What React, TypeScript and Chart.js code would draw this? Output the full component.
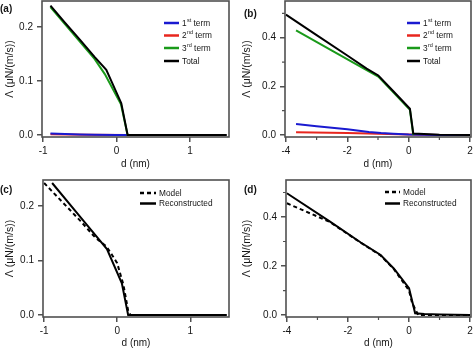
import React, { useEffect, useRef } from "react";
import { Chart, registerables } from "chart.js";
Chart.register(...registerables);

// ---------- DATA ----------
// Panel (a)
const aTotalX = [-0.9, -0.7, -0.5, -0.3, -0.14, 0.064, 0.15, 0.5, 1.0, 1.5];
const aTotalY = [0.240, 0.208, 0.177, 0.145, 0.121, 0.059, 0.0, 0.0, 0.0, 0.0];
const aThirdX = [-0.9, -0.7, -0.5, -0.3, -0.16, 0.06, 0.15];
const aThirdY = [0.237, 0.205, 0.173, 0.141, 0.113, 0.057, 0.0];
const aFirstX = [-0.9, -0.7, -0.5, -0.3, 0.0, 0.15];
const aFirstY = [0.003, 0.002, 0.001, 0.0005, 0.0, 0.0];
const aSecondX = [-0.9, -0.4, 0.15];
const aSecondY = [0.0012, 0.0007, 0.0002];

// Panel (b)
const bTotalX = [-4, -3, -2, -1.37, -0.99, -0.5, 0.04, 0.15, 0.5, 1, 2];
const bTotalY = [0.495, 0.411, 0.327, 0.273, 0.245, 0.18, 0.108, 0.006, 0.004, 0.001, 0.0];
const bThirdX = [-3.67, -2.5, -1.5, -0.99, -0.5, 0.04, 0.15];
const bThirdY = [0.43, 0.347, 0.276, 0.24, 0.176, 0.104, 0.0];
const bFirstX = [-3.67, -3, -2, -1.3, -0.9, -0.5, 0, 0.5, 1, 2];
const bFirstY = [0.045, 0.036, 0.024, 0.013, 0.008, 0.005, 0.002, 0.001, 0.0, 0.0];
const bSecondX = [-3.67, -2, -1, 0, 0.5, 1, 2];
const bSecondY = [0.012, 0.008, 0.005, 0.002, 0.001, 0.0005, 0.0];

// Panel (c)
const cModelX = [-1.0, -0.9, -0.7, -0.5, -0.3, -0.15, -0.07, 0.0, 0.086, 0.15, 0.18, 0.5, 1.0, 1.5];
const cModelY = [0.242, 0.228, 0.2, 0.172, 0.142, 0.126, 0.11, 0.095, 0.055, 0.008, 0.0, 0.0, 0.0, 0.0];
const cReconX = [-0.89, -0.5, -0.14, 0.064, 0.15, 0.5, 1.0, 1.5];
const cReconY = [0.242, 0.179, 0.121, 0.058, 0.0, 0.0, 0.0, 0.0];

// Panel (d)
const dReconX = [-4, -2.6, -1.58, -0.93, -0.5, 0, 0.2, 0.5, 1, 2];
const dReconY = [0.497, 0.382, 0.296, 0.245, 0.19, 0.11, 0.007, 0.004, 0.002, 0.0];
const dModelX = [-4, -3, -2.6, -1.58, -0.93, -0.5, 0, 0.1, 0.3, 1, 2];
const dModelY = [0.456, 0.402, 0.38, 0.295, 0.243, 0.188, 0.1, 0.05, 0.0, 0.0, 0.0];

// Ticks
const xTicksNarrow = [-1, 0, 1];
const xTicksWide = [-4, -2, 0, 2];
const xMinorWide = [-3, -1, 1];
const yTicksSmall = [0, 0.1, 0.2];
const yTicksLarge = [0, 0.2, 0.4];
const yMinorLarge = [0.1, 0.3, 0.5];

// Labels
const termLabels = [
  { main: "1", sup: "st", rest: " term" },
  { main: "2", sup: "nd", rest: " term" },
  { main: "3", sup: "rd", rest: " term" },
  { main: "Total", sup: "", rest: "" },
];
const fitLabels = ["Model", "Reconstructed"];
const yTitle = "Λ (μN/(m/s))";
const xTitle = "d (nm)";

// ---------- STYLE ----------
const FONT = "'Liberation Sans', Arial, Helvetica, sans-serif";
const FRAME = "#505050";
const TXT = "#151515";
const BLUE = "#1a1ad0";
const RED = "#e8261e";
const GREEN = "#1a9a1a";
const BLACK = "#000000";
const DASH = [4, 3];

type Series = { xs: number[]; ys: number[]; color: string; dash?: number[] };
type LegItem = { main: string; sup: string; rest: string; color: string; dash?: number[] };

interface PanelCfg {
  pos: { left: number; top: number };
  area: { l: number; t: number; r: number; b: number };
  xr: [number, number];
  yr: [number, number];
  xTicks: number[];
  yTicks: number[];
  xMinor: number[];
  yMinor: number[];
  series: Series[];
  legend: { x1: number; x2: number; tx: number; ys: number[]; items: LegItem[] };
  tag: { text: string; x: number; y: number };
  xTitlePad: number;
}

const W = 237;
const H = 175;

const panels: PanelCfg[] = [
  {
    pos: { left: 0, top: 0 },
    area: { l: 42, t: 1, r: 229, b: 137 },
    xr: [-1.015, 1.53],
    yr: [-0.0037, 0.2485],
    xTicks: xTicksNarrow,
    yTicks: yTicksSmall,
    xMinor: [],
    yMinor: [],
    series: [
      { xs: aTotalX, ys: aTotalY, color: BLACK },
      { xs: aThirdX, ys: aThirdY, color: GREEN },
      { xs: aFirstX, ys: aFirstY, color: BLUE },
      { xs: aSecondX, ys: aSecondY, color: RED },
    ],
    legend: {
      x1: 164, x2: 179, tx: 182, ys: [23, 35.5, 48, 61],
      items: [
        { ...termLabels[0], color: BLUE },
        { ...termLabels[1], color: RED },
        { ...termLabels[2], color: GREEN },
        { ...termLabels[3], color: BLACK },
      ],
    },
    tag: { text: "(a)", x: 0, y: 9 },
    xTitlePad: 5,
  },
  {
    pos: { left: 237, top: 0 },
    area: { l: 48, t: 1, r: 234, b: 137 },
    xr: [-4.03, 2.03],
    yr: [-0.008, 0.551],
    xTicks: xTicksWide,
    yTicks: yTicksLarge,
    xMinor: xMinorWide,
    yMinor: yMinorLarge,
    series: [
      { xs: bTotalX, ys: bTotalY, color: BLACK },
      { xs: bThirdX, ys: bThirdY, color: GREEN },
      { xs: bFirstX, ys: bFirstY, color: BLUE },
      { xs: bSecondX, ys: bSecondY, color: RED },
    ],
    legend: {
      x1: 170, x2: 183, tx: 186, ys: [23, 35.5, 48, 61],
      items: [
        { ...termLabels[0], color: BLUE },
        { ...termLabels[1], color: RED },
        { ...termLabels[2], color: GREEN },
        { ...termLabels[3], color: BLACK },
      ],
    },
    tag: { text: "(b)", x: 7, y: 14 },
    xTitlePad: 5,
  },
  {
    pos: { left: 0, top: 175 },
    area: { l: 43, t: 5, r: 229, b: 142 },
    xr: [-1.015, 1.53],
    yr: [-0.0037, 0.2475],
    xTicks: xTicksNarrow,
    yTicks: yTicksSmall,
    xMinor: [],
    yMinor: [],
    series: [
      { xs: cReconX, ys: cReconY, color: BLACK },
      { xs: cModelX, ys: cModelY, color: BLACK, dash: DASH },
    ],
    legend: {
      x1: 140, x2: 156, tx: 159, ys: [18, 28.5],
      items: [
        { main: fitLabels[0], sup: "", rest: "", color: BLACK, dash: DASH },
        { main: fitLabels[1], sup: "", rest: "", color: BLACK },
      ],
    },
    tag: { text: "(c)", x: 0, y: 15 },
    xTitlePad: 1,
  },
  {
    pos: { left: 237, top: 175 },
    area: { l: 49, t: 5, r: 234, b: 142 },
    xr: [-4.03, 2.03],
    yr: [-0.008, 0.551],
    xTicks: xTicksWide,
    yTicks: yTicksLarge,
    xMinor: xMinorWide,
    yMinor: yMinorLarge,
    series: [
      { xs: dReconX, ys: dReconY, color: BLACK },
      { xs: dModelX, ys: dModelY, color: BLACK, dash: DASH },
    ],
    legend: {
      x1: 148, x2: 163, tx: 166, ys: [17, 28.5],
      items: [
        { main: fitLabels[0], sup: "", rest: "", color: BLACK, dash: DASH },
        { main: fitLabels[1], sup: "", rest: "", color: BLACK },
      ],
    },
    tag: { text: "(d)", x: 7, y: 15 },
    xTitlePad: 1,
  },
];

function decoPlugin(cfg: PanelCfg) {
  return {
    id: "deco",
    afterDraw(chart: any) {
      const ctx: CanvasRenderingContext2D = chart.ctx;
      const ca = chart.chartArea;
      const xs = chart.scales.x;
      const ys = chart.scales.y;
      ctx.save();
      // frame
      ctx.strokeStyle = FRAME;
      ctx.lineWidth = 1.6;
      ctx.strokeRect(ca.left, ca.top, ca.right - ca.left, ca.bottom - ca.top);
      // minor ticks
      ctx.lineWidth = 1.2;
      ctx.beginPath();
      cfg.xMinor.forEach((v) => {
        const px = xs.getPixelForValue(v);
        ctx.moveTo(px, ca.bottom);
        ctx.lineTo(px, ca.bottom + 3);
      });
      cfg.yMinor.forEach((v) => {
        const py = ys.getPixelForValue(v);
        if (py < ca.top) return;
        ctx.moveTo(ca.left, py);
        ctx.lineTo(ca.left - 3, py);
      });
      ctx.stroke();
      // legend
      const lg = cfg.legend;
      lg.items.forEach((it, i) => {
        const y = lg.ys[i];
        ctx.strokeStyle = it.color;
        ctx.lineWidth = 2.5;
        ctx.setLineDash(it.dash ? it.dash : []);
        ctx.beginPath();
        ctx.moveTo(lg.x1, y);
        ctx.lineTo(lg.x2, y);
        ctx.stroke();
        ctx.setLineDash([]);
        ctx.fillStyle = TXT;
        ctx.textBaseline = "middle";
        ctx.textAlign = "left";
        ctx.font = `8.3px ${FONT}`;
        let x = lg.tx;
        ctx.fillText(it.main, x, y + 0.5);
        x += ctx.measureText(it.main).width;
        if (it.sup) {
          ctx.font = `5.5px ${FONT}`;
          ctx.fillText(it.sup, x + 0.3, y - 3);
          x += ctx.measureText(it.sup).width + 0.3;
          ctx.font = `8.3px ${FONT}`;
        }
        if (it.rest) ctx.fillText(it.rest, x, y + 0.5);
      });
      // tag
      ctx.fillStyle = TXT;
      ctx.font = `bold 10px ${FONT}`;
      ctx.textBaseline = "middle";
      ctx.textAlign = "left";
      ctx.fillText(cfg.tag.text, cfg.tag.x, cfg.tag.y);
      ctx.restore();
    },
  };
}

function Panel({ cfg }: { cfg: PanelCfg }) {
  const ref = useRef<HTMLCanvasElement | null>(null);
  useEffect(() => {
    if (!ref.current) return;
    const a = cfg.area;
    const chart = new Chart(ref.current, {
      type: "line",
      data: {
        datasets: cfg.series.map((s) => ({
          data: s.xs.map((x, i) => ({ x, y: s.ys[i] })),
          borderColor: s.color,
          backgroundColor: s.color,
          borderWidth: 2,
          borderDash: s.dash || [],
          pointRadius: 0,
          tension: 0,
          fill: false,
        })),
      },
      options: {
        animation: false,
        responsive: false,
        devicePixelRatio: 1,
        events: [],
        layout: { padding: { left: 0, top: a.t, right: W - a.r, bottom: 0 } },
        plugins: { legend: { display: false }, tooltip: { enabled: false } },
        scales: {
          x: {
            type: "linear",
            min: cfg.xr[0],
            max: cfg.xr[1],
            afterBuildTicks: (sc: any) => {
              sc.ticks = cfg.xTicks.map((v) => ({ value: v }));
            },
            afterFit: (sc: any) => {
              sc.height = H - a.b;
              sc.paddingLeft = 0;
              sc.paddingRight = 0;
            },
            ticks: {
              autoSkip: false,
              maxRotation: 0,
              padding: 3,
              color: TXT,
              font: { family: FONT, size: 10 },
              callback: (v: any) => String(v),
            },
            grid: {
              display: true,
              drawOnChartArea: false,
              drawTicks: true,
              tickLength: 5,
              color: FRAME,
              lineWidth: 1.5,
            },
            border: { display: false },
            title: {
              display: true,
              text: xTitle,
              color: TXT,
              font: { family: FONT, size: 10, lineHeight: 1.2 },
              padding: { top: 0, bottom: cfg.xTitlePad },
            },
          },
          y: {
            type: "linear",
            min: cfg.yr[0],
            max: cfg.yr[1],
            afterBuildTicks: (sc: any) => {
              sc.ticks = cfg.yTicks.map((v) => ({ value: v }));
            },
            afterFit: (sc: any) => {
              sc.width = a.l;
              sc.paddingTop = 0;
              sc.paddingBottom = 0;
            },
            ticks: {
              autoSkip: false,
              padding: 4,
              color: TXT,
              font: { family: FONT, size: 10 },
              callback: (v: any) => Number(v).toFixed(1),
            },
            grid: {
              display: true,
              drawOnChartArea: false,
              drawTicks: true,
              tickLength: 5,
              color: FRAME,
              lineWidth: 1.5,
            },
            border: { display: false },
            title: {
              display: true,
              text: yTitle,
              color: TXT,
              font: { family: FONT, size: 10.5, lineHeight: 1.2 },
              padding: { top: 3.5, bottom: 0 },
            },
          },
        },
      },
      plugins: [decoPlugin(cfg)],
    } as any);
    return () => chart.destroy();
  }, [cfg]);
  return (
    <canvas
      ref={ref}
      width={W}
      height={H}
      style={{ position: "absolute", left: cfg.pos.left, top: cfg.pos.top, width: W, height: H }}
    />
  );
}

export default function App() {
  return (
    <div style={{ position: "fixed", left: 0, top: 0, width: 474, height: 350, background: "#fff", overflow: "hidden" }}>
      {panels.map((p, i) => (
        <Panel key={i} cfg={p} />
      ))}
    </div>
  );
}
